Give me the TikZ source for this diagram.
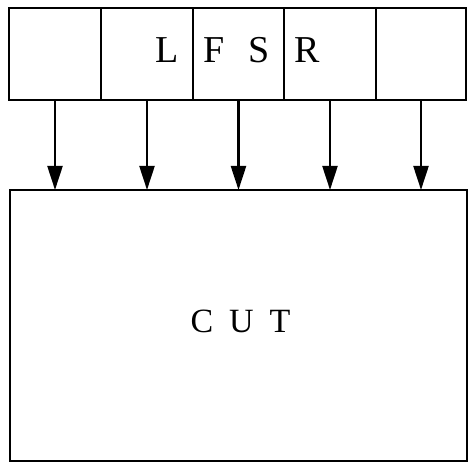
\documentclass[tikz,border=0pt]{standalone}
\usepackage{fontspec}
\setmainfont{Liberation Serif}
\usetikzlibrary{arrows.meta}
\begin{document}
\begin{tikzpicture}[x=1pt,y=1pt,
  cell/.style={draw, line width=2.2pt, minimum height=92pt, inner sep=0pt, outer sep=0pt},
  bigbox/.style={draw, line width=2.2pt, minimum width=457pt, minimum height=271pt, inner sep=0pt, outer sep=0pt},
  lbl/.style={font=\fontsize{38}{38}\selectfont, inner sep=0pt, anchor=base},
  cutlbl/.style={font=\fontsize{34}{34}\selectfont, inner sep=0pt, anchor=base},
  feed/.style={line width=2.2pt, -{Triangle[length=24pt,width=15pt]}}]
\useasboundingbox[fill=white] (0,0) rectangle (474,468);
\node[cell, minimum width=92pt] (c1) at (55,414) {};
\node[cell, minimum width=92pt] (c2) at (147,414) {};
\node[cell, minimum width=91pt] (c3) at (238.5,414) {};
\node[cell, minimum width=92pt] (c4) at (330,414) {};
\node[cell, minimum width=90pt] (c5) at (421,414) {};
\node[bigbox] (cut) at (238.5,142.5) {};
\node[lbl] (L) at (167.5,405) {L};
\node[lbl] (F) at (214,405) {F};
\node[lbl] (S) at (259.5,405) {S};
\node[lbl] (R) at (307.5,405) {R};
\node[cutlbl] (cutt) at (240.5,135) {C\hspace{16pt}U\hspace{16pt}T};
\foreach \i in {1,...,5}{
  \draw[feed] (c\i.south) -- (c\i.south |- cut.north);
}
\end{tikzpicture}
\end{document}
